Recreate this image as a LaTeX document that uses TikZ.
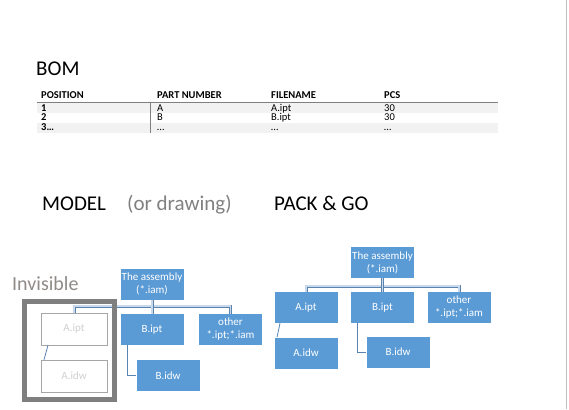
\documentclass[tikz,border=0pt]{standalone}
\usepackage{fontspec}
\setmainfont{Carlito}
\usepackage{xcolor}
\usetikzlibrary{positioning,calc}

\definecolor{boxblue}{HTML}{5B9BD5}
\definecolor{linkblue}{HTML}{5A84B0}
\definecolor{busfill}{HTML}{C9D8EA}
\definecolor{ghostline}{HTML}{A6A6A6}
\definecolor{ghosttext}{HTML}{D0D0D0}
\definecolor{framegray}{HTML}{7F7F7F}
\definecolor{rowgray}{HTML}{F2F2F2}
\definecolor{subgray}{HTML}{808080}
\definecolor{invgray}{HTML}{8F8A86}

\begin{document}
\begin{tikzpicture}[
  x=1pt, y=-1pt,
  title/.style={anchor=base west, inner sep=0, font=\fontsize{21}{25}\selectfont},
  cell/.style={anchor=base west, inner sep=0, font=\fontsize{10.5}{12}\selectfont},
  headcell/.style={cell, font=\fontsize{10.5}{12}\selectfont\bfseries},
  part/.style={
    rectangle,
    fill=boxblue,
    text=white,
    minimum width=63pt,
    minimum height=31pt,
    inner sep=0pt,
    align=center,
    font=\fontsize{11}{13}\selectfont
  },
  ghost/.style={part, fill=white, draw=ghostline, text=ghosttext, minimum width=66pt, minimum height=32pt},
  link/.style={draw=linkblue, line width=0.8pt},
  bus/.style={draw=linkblue, line width=0.7pt, double=busfill, double distance=1.6pt}
]
  \useasboundingbox (0,0) rectangle (569,409);
  \draw[black!25, line width=1pt] (566,0) -- (566,409);

  % BOM table
  \node[title] (bom) at (36,76) {BOM};
  \fill[rowgray] (37,103) rectangle (498,113);
  \fill[rowgray] (37,123) rectangle (498,133);
  \draw[subgray, line width=0.9pt] (37,102.5) -- (498,102.5);
  \draw[subgray, line width=0.9pt] (150,103) -- (150,133);

  \node[headcell] (hPos)  at (41,98.5)  {POSITION};
  \node[headcell] (hPart) at (157,98.5) {PART NUMBER};
  \node[headcell] (hFile) at (271,98.5) {FILENAME};
  \node[headcell] (hPcs)  at (384,98.5) {PCS};

  \node[headcell] (aPos)  at (41,111.5)  {1};
  \node[cell]     (aPart) at (157,111.5) {A};
  \node[cell]     (aFile) at (271,111.5) {A.ipt};
  \node[cell]     (aPcs)  at (384,111.5) {30};

  \node[headcell] (bPos)  at (41,121)  {2};
  \node[cell]     (bPart) at (157,121) {B};
  \node[cell]     (bFile) at (271,121) {B.ipt};
  \node[cell]     (bPcs)  at (384,121) {30};

  \node[headcell] (cPos)  at (41,130.7)  {3…};
  \node[cell]     (cPart) at (157,130.7) {…};
  \node[cell]     (cFile) at (271,130.7) {…};
  \node[cell]     (cPcs)  at (384,130.7) {…};

  % headings
  \node[title] (model) at (42,210) {MODEL};
  \node[title, text=subgray] (draw) at (127,210) {(or drawing)};
  \node[title] (pack) at (274,210) {PACK \& GO};
  \node[title, text=invgray, font=\fontsize{20}{24}\selectfont] (invis) at (12,290) {Invisible};

  % model tree
  \node[part]  (mAsm) at (152,284)   {The assembly\\(*.iam)};
  \node[ghost] (mAip) at (74,329)    {A.ipt};
  \node[ghost] (mAid) at (74,376)    {A.idw};
  \node[part]  (mBip) at (152,329.5) {B.ipt};
  \node[part]  (mOth) at (230.5,329.5) {other\\*.ipt;*.iam};
  \node[part]  (mBid) at (168,375.5) {B.idw};
  \coordinate (mBar) at (152,306);

  \draw[bus] (mAip.north) |- (mBar) -| (mOth.north);
  \draw[bus] (mAsm.south) -- (mBip.north);
  \draw[link] ([xshift=-26pt]mAip.south) -- ([xshift=-30pt]mAid.north);
  \draw[link] ([xshift=-25pt]mBip.south) |- (mBid.west);

  \draw[framegray, line width=5pt] (24.5,301.5) rectangle (114.5,399.5);

  % pack & go tree
  \node[part] (pAsm) at (382.5,262.5) {The assembly\\(*.iam)};
  \node[part] (pAip) at (306,307.5)   {A.ipt};
  \node[part] (pAid) at (306,353)     {A.idw};
  \node[part] (pBip) at (382.5,307.5) {B.ipt};
  \node[part] (pOth) at (459,307.5)   {other\\*.ipt;*.iam};
  \node[part] (pBid) at (398,352)     {B.idw};
  \coordinate (pBar) at (382.5,286);

  \draw[bus] (pAip.north) |- (pBar) -| (pOth.north);
  \draw[bus] (pAsm.south) -- (pBip.north);
  \draw[link] ([xshift=-26pt]pAip.south) -- ([xshift=-29pt]pAid.north);
  \draw[link] ([xshift=-25.5pt]pBip.south) |- (pBid.west);

\end{tikzpicture}
\end{document}
